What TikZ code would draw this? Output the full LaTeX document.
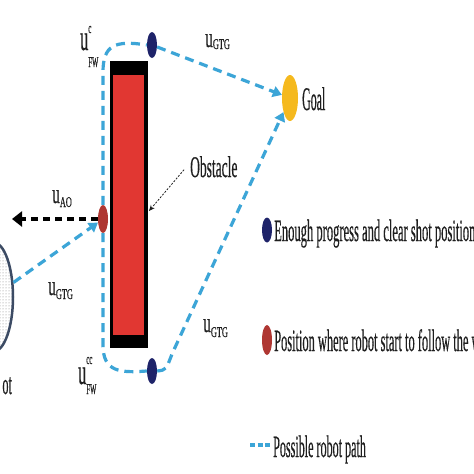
\documentclass[tikz,border=0pt]{standalone}
\usepackage{fontspec}
\setmainfont{Liberation Serif}[FakeBold=0.6]
\usetikzlibrary{shapes.geometric,arrows.meta,patterns}
\definecolor{pathblue}{RGB}{60,165,215}
\definecolor{navydot}{RGB}{30,35,105}
\definecolor{nodered}{RGB}{175,55,50}
\definecolor{obstred}{RGB}{225,55,50}
\definecolor{goalyellow}{RGB}{245,185,30}
\definecolor{robotedge}{RGB}{60,75,100}
\definecolor{textgray}{RGB}{30,30,30}
\newcommand{\hsq}[2][0.40]{\scalebox{#1}[1]{#2}}
\begin{document}
\begin{tikzpicture}[x=1pt,y=-1pt,
  dot/.style={ellipse,inner sep=0pt,minimum width=10pt,minimum height=26pt},
  robotpath/.style={pathblue,line width=3.2pt,dash pattern=on 9pt off 6pt},
  bluearrow/.style={robotpath,-{Triangle[length=9pt,width=11pt]}},
  lbl/.style={inner sep=0pt,anchor=base west,text=textgray},
  legtext/.style={lbl,font=\fontsize{31}{31}\selectfont},
]
\clip (0,0) rectangle (474,474);
\fill[white] (0,0) rectangle (474,474);
% obstacle
\fill[black] (110,61) rectangle (148,348);
\fill[obstred] (113,75) rectangle (144,335);
% nodes
\node[dot,fill=navydot] (ctop) at (152,45) {};
\node[dot,fill=navydot] (cbot) at (152,371) {};
\node[dot,fill=nodered,minimum height=28pt] (start) at (103,219) {};
\node[dot,fill=goalyellow,minimum width=16pt,minimum height=46pt] (goal) at (290,98) {};
\node[ellipse,draw=robotedge,line width=2.5pt,pattern=dots,pattern color=gray,
      minimum width=40pt,minimum height=110pt,inner sep=0pt] (robot) at (-7,297) {};
% robot paths
\draw[robotpath] (start.north) -- (103,72) .. controls (103,45) and (115,40) .. (ctop.west);
\draw[robotpath] (start.south) -- (103,345) .. controls (103,372) and (120,373) .. (cbot.west);
\draw[bluearrow] (ctop) -- (goal);
\draw[bluearrow] (cbot.east) .. controls (166,370) .. (172,354) -- (goal);
\draw[bluearrow] (robot) -- (start);
% avoid obstacle arrow
\coordinate (aoend) at (12,219);
\draw[black,line width=4pt,dash pattern=on 7pt off 5pt,-{Triangle[length=10pt,width=15pt]}] (start.west) -- (aoend);
% labels
\node[lbl] (goallbl) at (302,110) {\hsq[0.36]{\fontsize{33}{33}\selectfont Goal}};
\node[lbl] (obst) at (190,177) {\hsq[0.45]{\fontsize{30}{30}\selectfont Obstacle}};
\coordinate (obtip) at (149,211);
\draw[textgray,line width=0.8pt,dash pattern=on 2pt off 1.5pt,-{Stealth[length=6pt,width=5pt]}] ([shift={(-6,3)}]obst.west) -- (obtip);
\node[lbl] (ugtgtop) at (205,47) {\hsq[0.55]{\fontsize{28}{28}\selectfont u\raisebox{-2pt}{\fontsize{15}{15}\selectfont GTG}}};
\node[lbl] (ugtgleft) at (48,295) {\hsq[0.55]{\fontsize{28}{28}\selectfont u\raisebox{-4pt}{\fontsize{15}{15}\selectfont GTG}}};
\node[lbl] (ugtgright) at (203,332) {\hsq[0.55]{\fontsize{28}{28}\selectfont u\raisebox{-5pt}{\fontsize{15}{15}\selectfont GTG}}};
\node[lbl] (uao) at (52,203) {\hsq[0.55]{\fontsize{28}{28}\selectfont u\raisebox{-4pt}{\fontsize{15}{15}\selectfont AO}}};
\node[lbl] (ufwc) at (80,50) {\hsq[0.45]{\fontsize{36}{36}\selectfont u}\hsq[0.45]{\fontsize{15}{15}\selectfont\rlap{\raisebox{17pt}{c}}\raisebox{-17pt}{FW}}};
\node[lbl] (ufwcc) at (78,384) {\hsq[0.45]{\fontsize{36}{36}\selectfont u}\hsq[0.45]{\fontsize{15}{15}\selectfont\rlap{\raisebox{20pt}{cc}}\raisebox{-10pt}{FW}}};
\node[lbl,anchor=base east] (robotlbl) at (12,394) {\hsq[0.40]{\fontsize{30}{30}\selectfont ot}};
% legend
\node[dot,fill=navydot,minimum height=25pt] (legblue) at (267,230) {};
\node[legtext] (legbluetext) at (274,241) {\hsq[0.405]{Enough progress and clear shot position}};
\node[dot,fill=nodered,minimum height=30pt] (legred) at (267,340) {};
\node[legtext] (legredtext) at (274,351) {\hsq[0.40]{Position where robot start to follow the w}};
\coordinate (lgA) at (250,445);
\coordinate (lgB) at (271,445);
\draw[pathblue,line width=4pt,dash pattern=on 5pt off 2.5pt] (lgA) -- (lgB);
\node[legtext] (legpathtext) at (273,457) {\hsq[0.39]{Possible robot path}};
\end{tikzpicture}
\end{document}
